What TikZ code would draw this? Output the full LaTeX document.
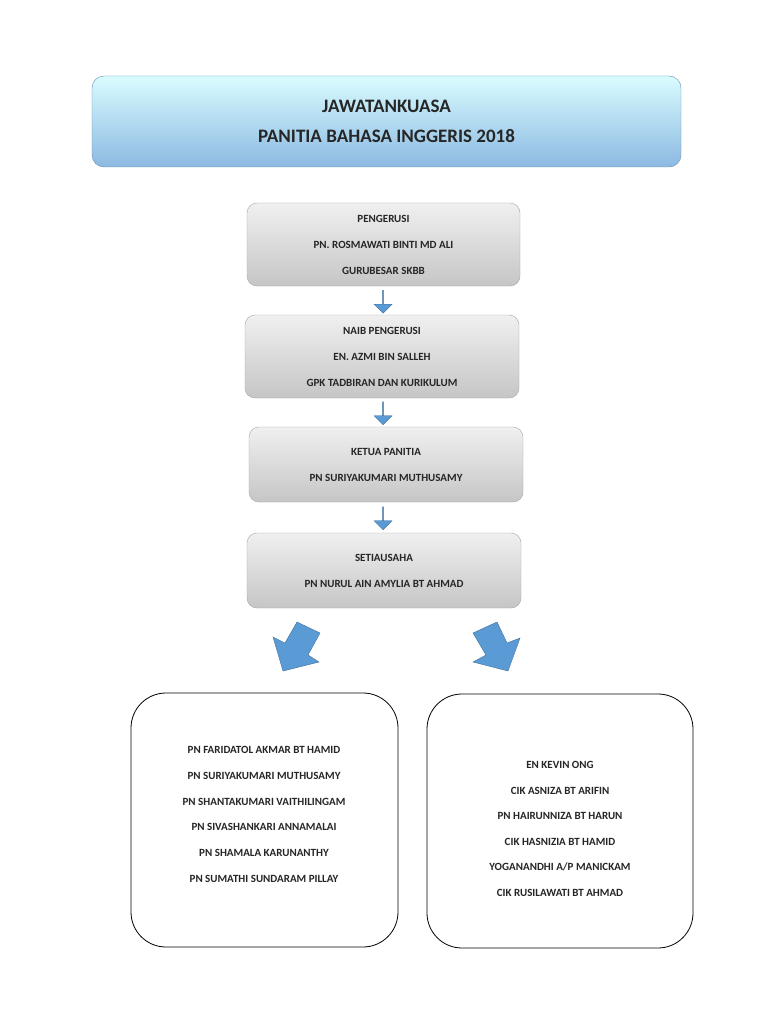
\documentclass[tikz,border=0pt]{standalone}
\usepackage{fontspec}
\setmainfont{Carlito}
\usetikzlibrary{shapes.arrows}
\definecolor{arrblue}{HTML}{5B9BD5}
\definecolor{arredge}{HTML}{41719C}
\begin{document}
\begin{tikzpicture}[x=1pt,y=-1pt,
  gbox/.style={draw=gray!70, rounded corners=10pt, top color=gray!12, bottom color=gray!45},
  btxt/.style={font=\fontsize{11}{26}\selectfont\bfseries, align=center, text=black!85},
  wbox/.style={draw=black, thick, rounded corners=35pt, fill=white},
  darr/.style={single arrow, draw=arredge, fill=arrblue, shape border rotate=270, minimum height=23pt, minimum width=18pt, single arrow head extend=4pt, inner sep=0pt},
  bigarr/.style={draw=arredge, fill=arrblue, line join=miter}]
\useasboundingbox (0,0) rectangle (768,1024);
\fill[white] (0,0) rectangle (768,1024);
\node[draw=arredge!80, rounded corners=12pt, top color=blue!8!cyan!15!white, bottom color=arrblue!70, minimum width=589pt, minimum height=91pt, font=\fontsize{19}{30}\selectfont\bfseries, align=center, text=black!85] (title) at (386.5,121.5) {JAWATANKUASA\\PANITIA BAHASA INGGERIS 2018};
\node[gbox, minimum width=273pt, minimum height=83pt, btxt] (b1) at (383.5,244.5) {PENGERUSI\\PN. ROSMAWATI BINTI MD ALI\\GURUBESAR SKBB};
\node[gbox, minimum width=274pt, minimum height=83pt, btxt] (b2) at (382,356.5) {NAIB PENGERUSI\\EN. AZMI BIN SALLEH\\GPK TADBIRAN DAN KURIKULUM};
\node[gbox, minimum width=274pt, minimum height=75pt, btxt] (b3) at (386,464.5) {KETUA PANITIA\\PN SURIYAKUMARI MUTHUSAMY};
\node[gbox, minimum width=274pt, minimum height=75pt, btxt] (b4) at (384,570.5) {SETIAUSAHA\\PN NURUL AIN AMYLIA BT AHMAD};
\node[darr] (a1) at (383,301.5) {};
\node[darr] (a2) at (383,413) {};
\node[darr] (a3) at (383,518) {};
\draw[bigarr] (283,671) -- (273,637) -- (285,643) -- (297,622) -- (320,633) -- (308,655) -- (319,662) -- cycle;
\draw[bigarr] (508,671) -- (520,638) -- (507,643) -- (497,622) -- (473,633) -- (486,655) -- (473,662) -- cycle;
\node[wbox, minimum width=267pt, minimum height=254pt] (l) at (264.5,820) {};
\node[wbox, minimum width=266pt, minimum height=254pt] (r) at (560,821) {};
\node[btxt, font=\fontsize{11}{25.8}\selectfont\bfseries] at (264,814.5) {PN FARIDATOL AKMAR BT HAMID\\PN SURIYAKUMARI MUTHUSAMY\\PN SHANTAKUMARI VAITHILINGAM\\PN SIVASHANKARI ANNAMALAI\\PN SHAMALA KARUNANTHY\\PN SUMATHI SUNDARAM PILLAY};
\node[btxt, font=\fontsize{11}{25.6}\selectfont\bfseries] at (560,829) {EN KEVIN ONG\\CIK ASNIZA BT ARIFIN\\PN HAIRUNNIZA BT HARUN\\CIK HASNIZIA BT HAMID\\YOGANANDHI A/P MANICKAM\\CIK RUSILAWATI BT AHMAD};
\end{tikzpicture}
\end{document}
